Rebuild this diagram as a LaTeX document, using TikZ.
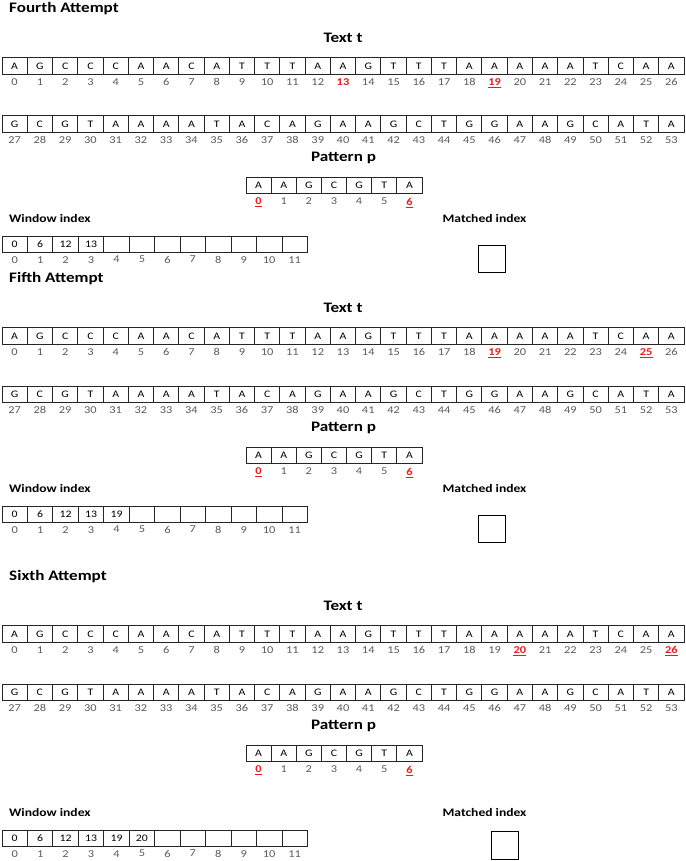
\documentclass[tikz,border=0pt]{standalone}
\usepackage{fontspec}
\setmainfont{Carlito}[FakeStretch=1.18]
\usetikzlibrary{positioning}
\definecolor{idxgray}{RGB}{90,90,90}
\definecolor{hired}{RGB}{240,25,25}
\def\seqt{A,G,C,C,C,A,A,C,A,T,T,T,A,A,G,T,T,T,A,A,A,A,A,T,C,A,A,G,C,G,T,A,A,A,A,T,A,C,A,G,A,A,G,C,T,G,G,A,A,G,C,A,T,A}
\begin{document}
\begin{tikzpicture}[x=1pt,y=-1pt,
  cell/.style={draw=black!85,line width=0.9pt,minimum width=25.26pt,minimum height=16.5pt,inner sep=0pt,font=\fontsize{10}{11}\selectfont},
  val/.style={inner sep=0pt,font=\fontsize{10}{11}\selectfont},
  ix/.style={inner sep=0pt,text=idxgray,font=\fontsize{10.5}{11}\selectfont},
  hot/.style={text=hired,font=\fontsize{10.5}{11}\selectfont\bfseries},
  ulin/.style={draw=hired,line width=0.8pt},
  ttl/.style={inner sep=0pt,font=\fontsize{14.5}{16}\selectfont\bfseries},
  lbl/.style={inner sep=0pt,font=\fontsize{11.5}{13}\selectfont\bfseries},
  hl-a13/.style=hot, hl-a19/.style=hot, hl-b19/.style=hot, hl-b25/.style=hot,
  hl-c20/.style=hot, hl-c26/.style=hot, hq0/.style=hot, hq6/.style=hot]
\useasboundingbox (0,0) rectangle (685,861);
% drei Versuche untereinander
\foreach \dy/\pre/\ttl/\win/\ul/\wy/\mx/\my in
  {0/a/Fourth/{0,6,12,13}/{19}/0/491.5/259,
   270/b/Fifth/{0,6,12,13,19}/{19,25}/0/491.5/259,
   568/c/Sixth/{0,6,12,13,19,20}/{20,26}/26/505/277.5}{
\begin{scope}[shift={(0,\dy)},name prefix=\pre-]
 \node[ttl,anchor=base west] (head) at (9,12.7) {\ttl{} Attempt};
 % Text t, zwei Zeilen zu je 27 Zeichen
 \node[ttl,anchor=base] (textt) at (343,42.7) {Text t};
 \foreach \c [count=\i from 0] in \seqt {
  \pgfmathtruncatemacro\r{\i/27}\pgfmathtruncatemacro\k{\i-27*\r}
  \node[cell] (t\i) at ({2+25.26*(\k+.5)},{65.8+58.4*\r}) {\c};
  \node[ix,below=3.6pt of t\i,hl-\pre\i/.try] (n\i) {\i};
 }
 \foreach \k in \ul {\draw[ulin] ([yshift=-1.7pt]n\k.south west) -- ([yshift=-1.7pt]n\k.south east);}
 % Pattern p
 \node[ttl,anchor=base] (patp) at (343.5,161.7) {Pattern p};
 \foreach \c [count=\i from 0] in {A,A,G,C,G,T,A}{
  \node[cell,minimum width=25.14pt] (p\i) at ({246+25.14*(\i+.5)},185.5) {\c};
  \node[ix,below=3.6pt of p\i,hq\i/.try] (q\i) {\i};
 }
 \foreach \k in {0,6} {\draw[ulin] ([yshift=-1.7pt]q\k.south west) -- ([yshift=-1.7pt]q\k.south east);}
 % Window index + Matched index
 \node[lbl,anchor=base west] (winl) at (9,{222.7+\wy}) {Window index};
 \foreach \j in {0,...,11}{
  \node[cell,minimum width=25.45pt,minimum height=16pt] (w\j) at ({2+25.45*(\j+.5)},{244+\wy}) {};
  \node[ix,below=3.6pt of w\j] (m\j) {\j};
 }
 \foreach \v [count=\j from 0] in \win {\node[val] (v\j) at (w\j) {\v};}
 \node[lbl,anchor=base] (matl) at (484.5,{222.7+\wy}) {Matched index};
 \node[draw,line width=1pt,minimum width=27pt,minimum height=27.5pt] (mbox) at (\mx,\my) {};
\end{scope}}
\end{tikzpicture}
\end{document}
